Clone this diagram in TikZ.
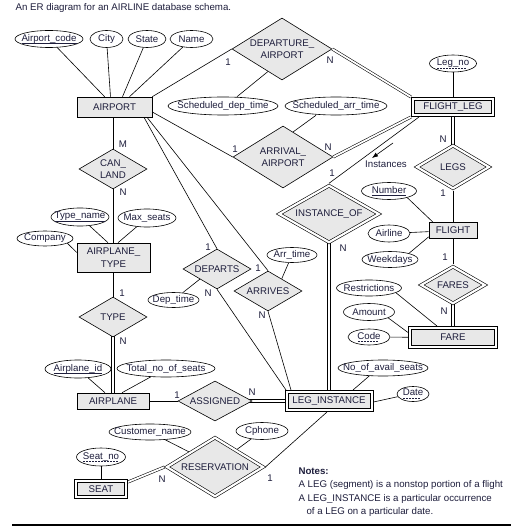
\documentclass[tikz,border=0pt]{standalone}
\usepackage{fontspec}
\setmainfont{Liberation Sans}
\usetikzlibrary{shapes.geometric,calc,arrows.meta,backgrounds}
\definecolor{efill}{RGB}{232,232,232}
\definecolor{txt}{RGB}{30,30,60}
\newcommand{\Z}[1]{\makebox[0pt]{#1}}
\newcommand{\KeyU}[1]{\setbox0\hbox{#1}\rlap{\copy0}\vrule height -2.1pt depth 2.7pt width \wd0\relax}
\newcommand{\KeyD}[1]{\setbox0\hbox{#1}\rlap{\copy0}\hbox to \wd0{\leaders\hbox to 3pt{\hss\vrule height -2.1pt depth 2.7pt width 2pt\hss}\hfill}}
\begin{document}
\begin{tikzpicture}[x=1pt,y=-1pt,
  every node/.style={font=\fontsize{9.7}{12.5}\selectfont, text=txt},
  base/.style={line width=0.6pt, inner sep=0pt},
  ent/.style={base, draw, rectangle, fill=efill, align=center},
  went/.style={ent, fill=white, path picture={\draw[line width=0.6pt, fill=efill]
      ([shift={(3pt,3pt)}]path picture bounding box.south west) rectangle
      ([shift={(-3pt,-3pt)}]path picture bounding box.north east);}},
  rel/.style={base, draw, diamond, aspect=1.7, fill=efill, align=center},
  wrel/.style={rel, double, double distance=2.2pt, outer sep=1.7pt},
  attr/.style={base, draw, ellipse, fill=white},
  card/.style={inner sep=0pt},
  conn/.style={line width=0.6pt},
  dconn/.style={line width=0.55pt, double, double distance=1.8pt}]
\useasboundingbox (0,0) rectangle (514,526);

\node[anchor=base west] (title) at (12,11) {An ER diagram for an AIRLINE database schema.};

% entities
\node[ent, minimum width=75, minimum height=20] (airport) at (114.5,107) {AIRPORT};
\node[went, minimum width=83.4, minimum height=19.4] (flightleg) at (453,107) {FLIGHT\_LEG};
\node[ent, minimum width=48, minimum height=16] (flight) at (453,230.5) {FLIGHT};
\node[went, minimum width=89.4, minimum height=22.4] (fare) at (453,337.5) {FARE};
\node[went, minimum width=88.4, minimum height=21.4] (leginst) at (329,401) {LEG\_INSTANCE};
\node[ent, minimum width=72, minimum height=16] (airplane) at (113,401) {AIRPLANE};
\node[ent, minimum width=73, minimum height=29] (airtype) at (113.5,257.5) {AIRPLANE\_\\TYPE};
\node[went, minimum width=53.4, minimum height=19.4] (seat) at (101,489) {SEAT};

% relationships
\node[rel, minimum width=100, minimum height=62] (dep) at (282,49) {DEPARTURE\_\\AIRPORT};
\node[rel, minimum width=100, minimum height=62] (arr) at (283,157) {ARRIVAL\_\\AIRPORT};
\node[wrel, minimum width=101, minimum height=58] (instof) at (329,214) {INSTANCE\_OF};
\node[wrel, minimum width=73.4, minimum height=44] (legs) at (453,167) {LEGS};
\node[wrel, minimum width=65, minimum height=38] (fares) at (453,285) {FARES};
\node[rel, minimum width=68, minimum height=40] (canland) at (113,169) {CAN\_\\LAND};
\node[rel, minimum width=68, minimum height=40] (type) at (113,317) {TYPE};
\node[rel, minimum width=68, minimum height=40] (departs) at (217,269) {DEPARTS};
\node[rel, minimum width=68, minimum height=40] (arrives) at (268,291) {ARRIVES};
\node[rel, minimum width=74, minimum height=40] (assigned) at (215,401) {ASSIGNED};
\node[wrel, minimum width=97.5, minimum height=60] (reserv) at (215,467) {RESERVATION};

% attributes
\node[attr, minimum width=68, minimum height=17] (ac) at (49,39) {\Z{\KeyU{Airport\_code}}};
\node[attr, minimum width=33, minimum height=17] (city) at (106.5,39) {\Z{City}};
\node[attr, minimum width=38, minimum height=17] (state) at (147,39) {\Z{State}};
\node[attr, minimum width=43, minimum height=17] (name) at (191.5,39) {\Z{Name}};
\node[attr, minimum width=110, minimum height=18] (sdt) at (223,106) {\Z{Scheduled\_dep\_time}};
\node[attr, minimum width=102, minimum height=18] (sat) at (336,106) {\Z{Scheduled\_arr\_time}};
\node[attr, minimum width=47, minimum height=17] (legno) at (453,63.5) {\Z{\KeyD{Leg\_no}}};
\node[attr, minimum width=55, minimum height=17] (number) at (389,191) {\Z{\KeyU{Number}}};
\node[attr, minimum width=42, minimum height=17] (airline) at (389,233.5) {\Z{Airline}};
\node[attr, minimum width=56, minimum height=16] (weekdays) at (390,259.5) {\Z{Weekdays}};
\node[attr, minimum width=65, minimum height=16] (restr) at (369,288) {\Z{Restrictions}};
\node[attr, minimum width=51, minimum height=17] (amount) at (369,312) {\Z{Amount}};
\node[attr, minimum width=42, minimum height=16] (code) at (369,337) {\Z{\KeyD{Code}}};
\node[attr, minimum width=90, minimum height=16] (noas) at (383,368) {\Z{No\_of\_avail\_seats}};
\node[attr, minimum width=32, minimum height=15] (date) at (413,394) {\Z{\KeyD{Date}}};
\node[attr, minimum width=82, minimum height=16] (custname) at (150,432) {\Z{Customer\_name}};
\node[attr, minimum width=52, minimum height=17] (cphone) at (262,431) {\Z{Cphone}};
\node[attr, minimum width=49, minimum height=18] (seatno) at (101,457) {\Z{\KeyD{Seat\_no}}};
\node[attr, minimum width=66, minimum height=18] (airplaneid) at (78,369) {\Z{\KeyU{Airplane\_id}}};
\node[attr, minimum width=98, minimum height=17] (totalseats) at (166,368.5) {\Z{Total\_no\_of\_seats}};
\node[attr, minimum width=56, minimum height=15] (company) at (45,238.5) {\Z{Company}};
\node[attr, minimum width=58, minimum height=18] (typename) at (80,217) {\Z{\KeyU{Type\_name}}};
\node[attr, minimum width=58, minimum height=18] (maxseats) at (147,218) {\Z{Max\_seats}};
\node[attr, minimum width=51, minimum height=15] (deptime) at (173.5,300) {\Z{Dep\_time}};
\node[attr, minimum width=50, minimum height=15] (arrtime) at (292,255) {\Z{Arr\_time}};

% cardinalities
\node[card] (c1) at (228,62) {1};
\node[card] (c2) at (330,60) {N};
\node[card] (c3) at (235,149) {1};
\node[card] (c4) at (328,147) {N};
\node[card] (c5) at (332,173) {1};
\node[card] (c6) at (343,248) {N};
\node[card] (c7) at (443,139) {N};
\node[card] (c8) at (443,193) {1};
\node[card] (c9) at (445,257) {1};
\node[card] (c10) at (444,311) {N};
\node[card] (c11) at (123,144) {M};
\node[card] (c12) at (123,192) {N};
\node[card] (c13) at (122,293) {1};
\node[card] (c14) at (123,341) {N};
\node[card] (c15) at (208,247) {1};
\node[card] (c16) at (208,293) {N};
\node[card] (c17) at (258,268) {1};
\node[card] (c18) at (262,315) {N};
\node[card] (c19) at (177,395) {1};
\node[card] (c20) at (252,392) {N};
\node[card] (c21) at (162,479) {N};
\node[card] (c22) at (270,478) {1};

% instances arrow
\coordinate (ia1) at (393,143);
\coordinate (ia2) at (372,158);
\draw[line width=0.6pt, -{Latex[length=6pt,width=4.5pt]}] (ia1) -- (ia2);
\node (inst) at (386,164) {Instances};

% notes
\node[anchor=base west, font=\fontsize{9.7}{12}\selectfont\bfseries] (n0) at (295,474) {Notes:};
\node[anchor=base west] (n1) at (295,487.8) {A LEG (segment) is a nonstop portion of a flight};
\node[anchor=base west] (n2) at (295,501.2) {A LEG\_INSTANCE is a particular occurrence};
\node[anchor=base west] (n3) at (303,514) {of a LEG on a particular date.};

\coordinate (r1) at (12,525);
\coordinate (r2) at (511,525);
\draw[line width=1.3pt] (r1) -- (r2);

\begin{pgfonlayer}{background}
\draw[conn] (ac) -- (airport);
\draw[conn] (city) -- ([xshift=-4pt]airport.north);
\draw[conn] (state) -- ([xshift=8pt]airport.north);
\draw[conn] (name) -- ([xshift=15pt]airport.north);
\draw[conn] (airport.north east) -- (dep.west);
\draw[dconn] (dep.east) -- (flightleg.north west);
\draw[conn] ([xshift=14pt]sdt.north) -- ($(dep.west)!0.72!(dep.south)$);
\draw[conn] ([xshift=-20pt]sat.south) -- ($(arr.north)!0.2!(arr.east)$);
\draw[conn] (legno) -- (legno.south |- flightleg.north);
\draw[conn] ([yshift=-5pt]airport.east) -- (arr.west);
\draw[dconn] (arr.east) -- (flightleg.south west);
\draw[conn] ([xshift=8pt]flightleg.south west) -- (instof.north);
% vertical / horizontal double connectors as two parallel lines
\draw[conn] ([xshift=-1.3pt]flightleg.center) -- ([xshift=-1.3pt]legs.center);
\draw[conn] ([xshift=1.3pt]flightleg.center) -- ([xshift=1.3pt]legs.center);
\draw[conn] (legs) -- (flight);
\draw[conn] (number.-20) -- ([xshift=-20pt]flight.north);
\draw[conn] (airline) -- (flight);
\draw[conn] (weekdays.18) -- ([yshift=2pt]flight.south west);
\draw[conn] (flight) -- (fares);
\draw[conn] ([xshift=-1.3pt]fares.center) -- ([xshift=-1.3pt]fare.center);
\draw[conn] ([xshift=1.3pt]fares.center) -- ([xshift=1.3pt]fare.center);
\draw[conn] (restr.-10) -- ([xshift=-16pt]fare.north);
\draw[conn] (amount.-17) -- ([yshift=5pt]fare.west);
\draw[conn] (code) -- (fare);
\draw[conn] (noas.-150) -- ([xshift=24pt]leginst.north);
\draw[conn] (date.-170) -- ([yshift=-1pt]leginst.east);
\draw[conn] ([xshift=-2pt]leginst.south) -- (reserv.east);
\draw[conn] ([xshift=-1.3pt]instof.center) -- ([xshift=-1.3pt]leginst.center);
\draw[conn] ([xshift=1.3pt]instof.center) -- ([xshift=1.3pt]leginst.center);
\draw[conn] ([yshift=-1.3pt]assigned.center) -- ([yshift=-1.3pt]leginst.center);
\draw[conn] ([yshift=1.3pt]assigned.center) -- ([yshift=1.3pt]leginst.center);
\draw[conn] (airplane) -- (assigned);
\draw[conn] (departs.south) -- ([xshift=-43pt]leginst.north);
\draw[conn] (arrives.south) -- ([xshift=-38pt]leginst.north);
\draw[conn] ([xshift=29.5pt]airport.south) -- (departs.north);
\draw[conn] ([xshift=32.5pt]airport.south) -- (arrives.north);
\draw[conn] (deptime) -- ($(departs.west)!0.5!(departs.south)$);
\draw[conn] (arrtime) -- ($(arrives.north)!0.4!(arrives.east)$);
\draw[conn] (canland.north |- airport.south) -- (canland.north);
\draw[conn] (canland.south) -- (canland.south |- airtype.north);
\draw[conn] (type.north |- airtype.south) -- (type.north);
\draw[conn] ([xshift=-1.3pt]type.center) -- ([xshift=-1.3pt]type.center |- airplane.center);
\draw[conn] ([xshift=1.3pt]type.center) -- ([xshift=1.3pt]type.center |- airplane.center);
\draw[conn] (company.-12) -- ([yshift=5pt]airtype.west);
\draw[conn] (typename) -- ([xshift=-5.5pt]airtype.north);
\draw[conn] (maxseats) -- ([xshift=4.5pt]airtype.north);
\draw[conn] (airplaneid) -- ([xshift=-8pt]airplane.north);
\draw[conn] (totalseats) -- ([xshift=9pt]airplane.north);
\draw[conn] (seatno) -- (seat);
\draw[dconn] ([yshift=7pt]seat.east) -- (reserv.west);
\draw[conn] (custname) -- ($(reserv.west)!0.48!(reserv.north)$);
\draw[conn] (cphone) -- ($(reserv.north)!0.44!(reserv.east)$);
\end{pgfonlayer}
\end{tikzpicture}
\end{document}
